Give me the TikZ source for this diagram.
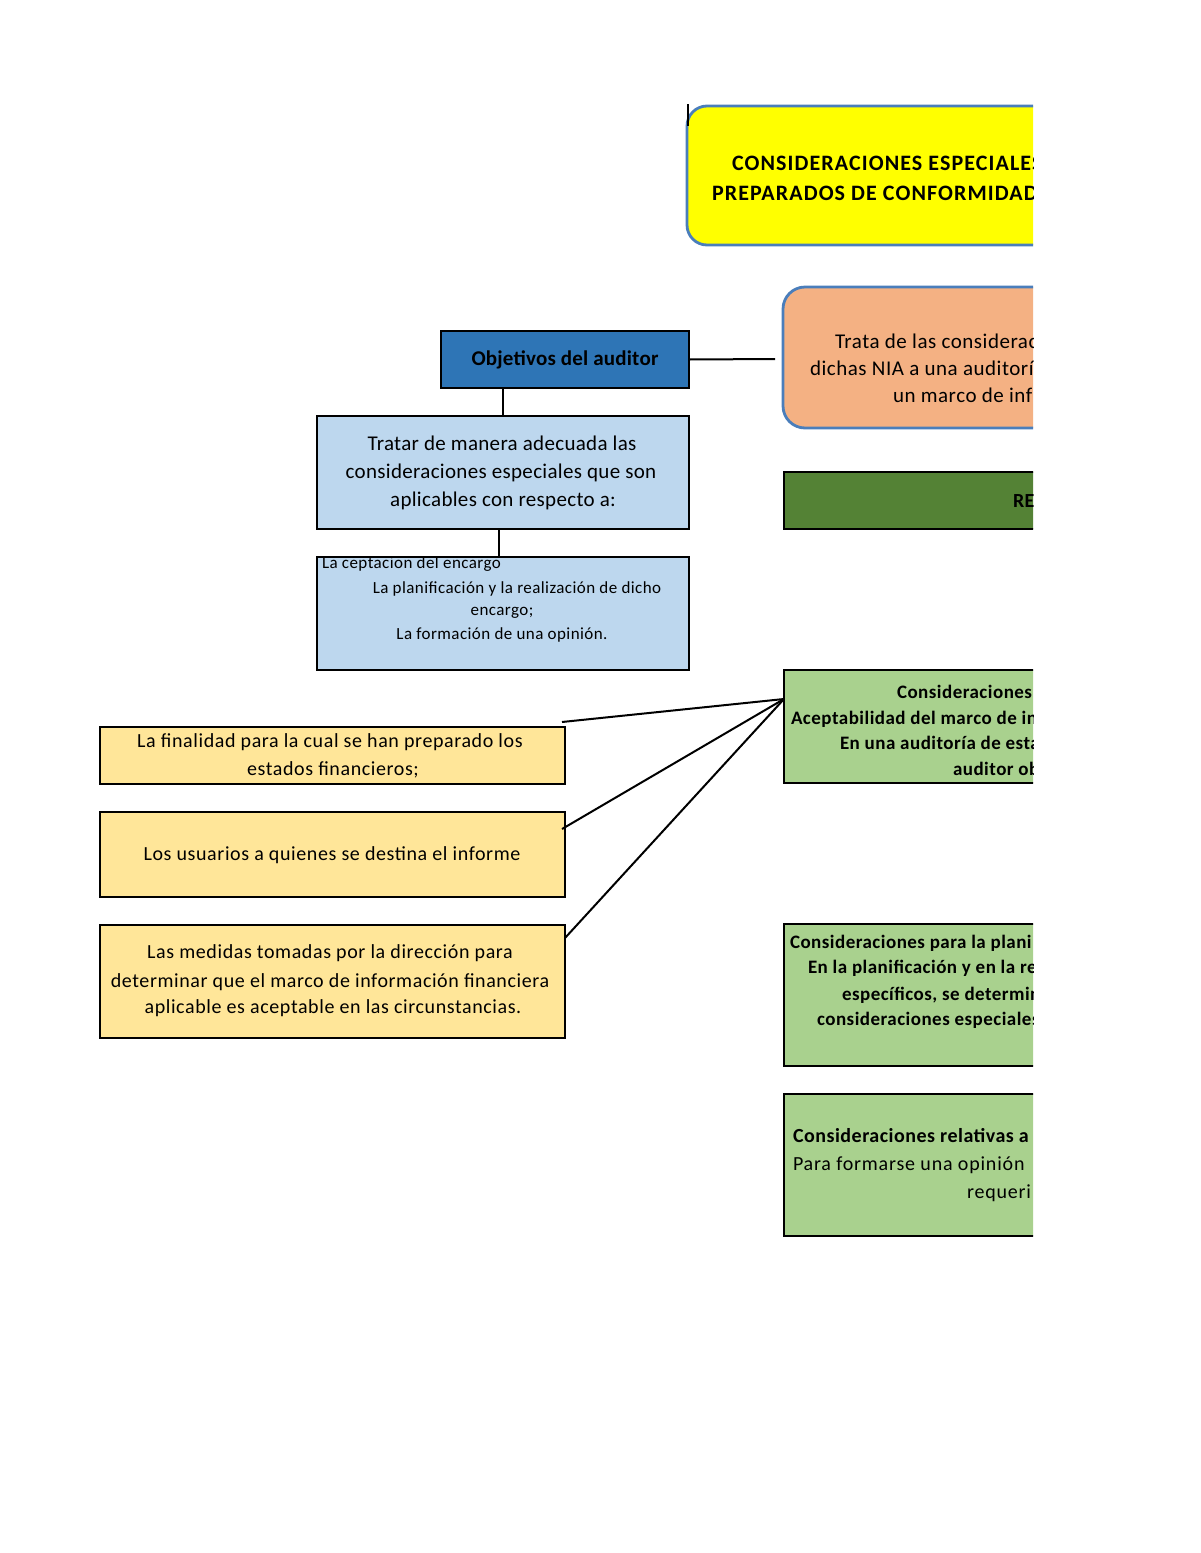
\documentclass[tikz,border=0pt]{standalone}
\usepackage{fontspec}
\setmainfont{Carlito}
\definecolor{bordblue}{HTML}{4A7EBB}
\definecolor{titleyel}{HTML}{FFFF00}
\definecolor{orangef}{HTML}{F4B183}
\definecolor{objblue}{HTML}{2E75B6}
\definecolor{lightblue}{HTML}{BDD7EE}
\definecolor{darkgreen}{HTML}{548235}
\definecolor{lightgreen}{HTML}{A9D18E}
\definecolor{paleyel}{HTML}{FFE699}
\newcommand{\fnt}[3]{\fontsize{#1}{#2}\selectfont\addfontfeatures{LetterSpace=#3}}
\begin{document}
\begin{tikzpicture}[x=0.5pt,y=-0.5pt,
  box/.style={draw=black,line width=1.2pt,inner sep=0pt,outer sep=0pt,anchor=north west},
  rbox/.style={draw=bordblue,line width=1.4pt,inner sep=0pt,outer sep=0pt,anchor=north west},
  txt/.style={inner sep=0pt,outer sep=0pt,anchor=base west},
  ctxt/.style={inner sep=0pt,outer sep=0pt,anchor=base},
  titlef/.style={font=\bfseries\fnt{11}{13}{5}},
  orangetf/.style={font=\fnt{10.5}{12}{2.5}},
  tratf/.style={font=\fnt{10.5}{12}{1.5}},
  listf/.style={font=\fnt{8.5}{10}{2.5}},
  greenf/.style={font=\bfseries\fnt{9.5}{11}{2.5}},
  g3bf/.style={font=\bfseries\fnt{10}{12}{2.5}},
  g3rf/.style={font=\fnt{10}{12}{4}},
  yelf/.style={font=\fnt{10}{12}{3}},
  conn/.style={draw=black,line width=1pt}]
\useasboundingbox (0,0) rectangle (1200,1553);
\fill[white] (0,0) rectangle (1200,1553);
\begin{scope}
\clip (0,0) rectangle (1033,1553);
% title
\node[rbox,fill=titleyel,rounded corners=10pt,minimum width=290pt,minimum height=69.5pt] (title) at (687,106) {};
\draw[line width=0.8pt] ([shift={(1,-2)}]title.north west) -- ++(0,22);
\node[txt,titlef] (t1) at (732,170) {CONSIDERACIONES ESPECIALES};
\node[txt,titlef] (t2) at (712,200) {PREPARADOS DE CONFORMIDAD};
% orange
\node[rbox,fill=orangef,rounded corners=11pt,minimum width=240pt,minimum height=70.5pt] (orange) at (783,287) {};
\node[txt,orangetf] (o1) at (835,348) {Trata de las considerac};
\node[txt,orangetf] (o2) at (810,375) {dichas NIA a una auditoría};
\node[txt,orangetf] (o3) at (893,402) {un marco de inf};
% objetivos
\node[box,fill=objblue,minimum width=124pt,minimum height=28.5pt] (obj) at (441,331) {};
\node[ctxt,font=\bfseries\fnt{10.5}{12}{1}] (objt) at (565,365) {Objetivos del auditor};
\coordinate (objend) at (775,359);
\draw[conn] (obj.east) -- (objend);
% tratar
\node[box,fill=lightblue,minimum width=186pt,minimum height=56.5pt] (tratar) at (317,416) {};
\node[ctxt,tratf] (tr1) at (502,450) {Tratar de manera adecuada las};
\node[ctxt,tratf] (tr2) at (501,478) {consideraciones especiales que son};
\node[ctxt,tratf] (tr3) at (503,506) {aplicables con respecto a:};
\draw[conn] (tratar.north) -- (tratar.north |- obj.south);
% list
\node[box,fill=lightblue,minimum width=186pt,minimum height=56.5pt] (list) at (317,557) {};
\draw[conn] ([xshift=-2pt]list.north) -- ([xshift=-2pt]tratar.south);
\node[ctxt,listf] (l2) at (517,593) {La planificación y la realización de dicho};
\node[ctxt,listf] (l3) at (502,615) {encargo;};
\node[ctxt,listf] (l4) at (502,639) {La formación de una opinión.};
\begin{scope}
\clip (317,558) rectangle (689,600);
\node[txt,listf] (l1) at (322,568) {La ceptacion del encargo};
\end{scope}
\draw[line width=1.2pt] (list.north west) -- (list.north east);
% RE
\node[box,fill=darkgreen,minimum width=240pt,minimum height=28.5pt] (re) at (784,472) {};
\node[txt,font=\bfseries\fnt{10}{12}{2}] (ret) at (1013,507) {RE};
% green 1
\node[box,fill=lightgreen,minimum width=240pt,minimum height=56.5pt] (g1) at (784,670) {};
\node[txt,greenf] (g1a) at (897,698) {Consideraciones};
\node[txt,greenf] (g1b) at (791,724) {Aceptabilidad del marco de in};
\node[txt,greenf] (g1c) at (840,749) {En una auditoría de esta};
\node[txt,greenf] (g1d) at (953,775) {auditor ob};
% green 2
\node[box,fill=lightgreen,minimum width=240pt,minimum height=71pt] (g2) at (784,924) {};
\node[txt,greenf] (g2a) at (790,948) {Consideraciones para la plani};
\node[txt,greenf] (g2b) at (808,973) {En la planificación y en la re};
\node[txt,greenf] (g2c) at (842,1000) {específicos, se determin};
\node[txt,greenf] (g2d) at (817,1025) {consideraciones especiales};
% green 3
\node[box,fill=lightgreen,minimum width=240pt,minimum height=71pt] (g3) at (784,1094) {};
\node[txt,g3bf] (g3a) at (793,1142) {Consideraciones relativas a};
\node[txt,g3rf] (g3b) at (793,1170) {Para formarse una opinión};
\node[txt,g3rf] (g3c) at (967,1198) {requeri};
% yellow boxes
\node[box,fill=paleyel,minimum width=232.5pt,minimum height=28.5pt] (y1) at (100,727) {};
\node[ctxt,yelf] (y1a) at (330,747) {La finalidad para la cual se han preparado los};
\node[ctxt,yelf] (y1b) at (333,775) {estados financieros;};
\node[box,fill=paleyel,minimum width=232.5pt,minimum height=42.5pt] (y2) at (100,812) {};
\node[ctxt,yelf] (y2a) at (332,860) {Los usuarios a quienes se destina el informe};
\node[box,fill=paleyel,minimum width=232.5pt,minimum height=56.5pt] (y3) at (100,925) {};
\node[ctxt,yelf] (y3a) at (330,958) {Las medidas tomadas por la dirección para};
\node[ctxt,yelf] (y3b) at (330,987) {determinar que el marco de información financiera};
\node[ctxt,yelf] (y3c) at (333,1013) {aplicable es aceptable en las circunstancias.};
% connectors
\coordinate (gin) at (g1.west |- 0,699);
\draw[conn] (gin) -- ([shift={(-3,-5)}]y1.north east);
\draw[conn] (gin) -- ([shift={(-3,17)}]y2.north east);
\draw[conn] (gin) -- ([shift={(0,13)}]y3.north east);
\end{scope}
\end{tikzpicture}
\end{document}
